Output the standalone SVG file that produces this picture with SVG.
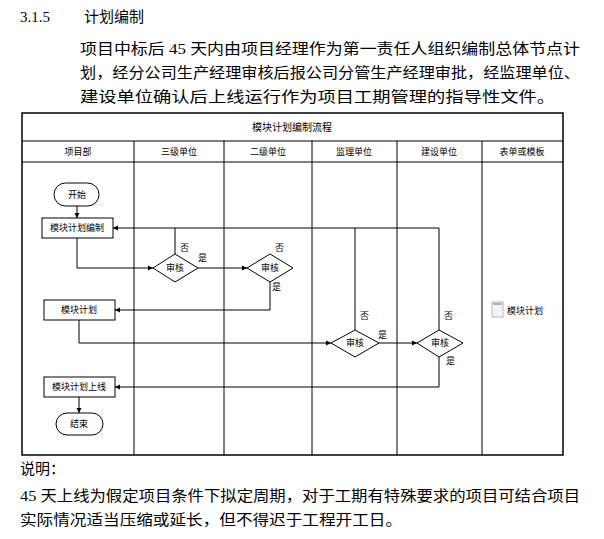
<svg xmlns="http://www.w3.org/2000/svg" width="604" height="539" viewBox="0 0 604 539">
<style>
text{font-family:"Liberation Serif","Noto Sans CJK SC",serif;fill:#000}
.p{font-size:15px}
.s{font-size:9px;text-anchor:middle;dominant-baseline:central}
.l{font-size:9px}
.b{fill:#fff;stroke:#000;stroke-width:1}
.c{fill:none;stroke:#000;stroke-width:1}
</style>
<defs><marker id="a" markerWidth="6" markerHeight="6" refX="5" refY="3" orient="auto" markerUnits="userSpaceOnUse"><path d="M0,0.5 L5,3 L0,5.5z" fill="#000"/></marker></defs>
<rect width="604" height="539" fill="#fff"/>
<text class="p" x="20" y="22">3.1.5</text><text class="p" x="84" y="22">计划编制</text>
<text class="p" x="80" y="54" textLength="500" lengthAdjust="spacingAndGlyphs">项目中标后 45 天内由项目经理作为第一责任人组织编制总体节点计</text>
<text class="p" x="80" y="78" textLength="500" lengthAdjust="spacingAndGlyphs">划，经分公司生产经理审核后报公司分管生产经理审批，经监理单位、</text>
<text class="p" x="80" y="102" textLength="475" lengthAdjust="spacingAndGlyphs">建设单位确认后上线运行作为项目工期管理的指导性文件。</text>
<g id="table">
<rect x="22" y="113" width="541" height="342" fill="none" stroke="#000" stroke-width="1.5"/>
<path class="c" d="M22,141H563M22,162H563M134,141V455M224,141V455M312,141V455M397,141V455M482,141V455"/>
<text class="s" x="292" y="127" style="font-size:10px">模块计划编制流程</text>
<text class="s" x="78" y="152">项目部</text><text class="s" x="179" y="152">三级单位</text><text class="s" x="268" y="152">二级单位</text><text class="s" x="354" y="152">监理单位</text><text class="s" x="439" y="152">建设单位</text><text class="s" x="522" y="152">表单或模板</text>
</g>
<g id="connectors" class="c">
<path class="c" d="M77,206V218" marker-end="url(#a)"/>
<path class="c" d="M439,330V228H113" marker-end="url(#a)"/>
<path class="c" d="M175,254V228M355,330V228"/>
<path class="c" d="M77,238V268H153" marker-end="url(#a)"/>
<path class="c" d="M198,268H247" marker-end="url(#a)"/>
<path class="c" d="M270,281V310H115" marker-end="url(#a)"/>
<path class="c" d="M79,320V343H331" marker-end="url(#a)"/>
<path class="c" d="M379,343H417" marker-end="url(#a)"/>
<path class="c" d="M439,356V387H115" marker-end="url(#a)"/>
<path class="c" d="M79,397V413" marker-end="url(#a)"/>
</g>
<g id="labels">
<text class="l" x="180" y="251">否</text><text class="l" x="198" y="261">是</text>
<text class="l" x="275" y="251">否</text><text class="l" x="272" y="290">是</text>
<text class="l" x="360" y="319">否</text><text class="l" x="378" y="338">是</text>
<text class="l" x="444" y="319">否</text><text class="l" x="446" y="364">是</text>
</g>
<g id="start"><rect class="b" x="54" y="183" width="45" height="23" rx="11.5"/><text class="s" x="77" y="195">开始</text></g>
<g id="edit"><rect class="b" x="42" y="218" width="71" height="20"/><text class="s" x="77" y="228">模块计划编制</text></g>
<g id="d1"><path class="b" d="M175,254L198,268L175,282L153,268z"/><text class="s" x="175" y="268">审核</text></g>
<g id="d2"><path class="b" d="M270,254L293,268L270,282L247,268z"/><text class="s" x="270" y="268">审核</text></g>
<g id="plan"><rect class="b" x="44" y="300" width="71" height="20"/><text class="s" x="79" y="310">模块计划</text></g>
<g id="d3"><path class="b" d="M355,330L379,343L355,357L331,343z"/><text class="s" x="355" y="343">审核</text></g>
<g id="d4"><path class="b" d="M439,330L463,343L439,357L417,343z"/><text class="s" x="440" y="343">审核</text></g>
<g id="online"><rect class="b" x="44" y="377" width="71" height="20"/><text class="s" x="79" y="387">模块计划上线</text></g>
<g id="end"><rect class="b" x="56" y="413" width="47" height="22" rx="11"/><text class="s" x="79" y="424">结束</text></g>
<g id="tpl"><rect x="492" y="302" width="11" height="15" fill="#f4f4f4" stroke="#999" stroke-width="0.7"/><path d="M493,304H502" stroke="#66a" stroke-width="1"/><text class="l" x="507" y="314">模块计划</text></g>
<text class="p" x="20" y="474">说明：</text>
<text class="p" x="20" y="501" textLength="560" lengthAdjust="spacingAndGlyphs">45 天上线为假定项目条件下拟定周期，对于工期有特殊要求的项目可结合项目</text>
<text class="p" x="20" y="525" textLength="382" lengthAdjust="spacingAndGlyphs">实际情况适当压缩或延长，但不得迟于工程开工日。</text>
</svg>
